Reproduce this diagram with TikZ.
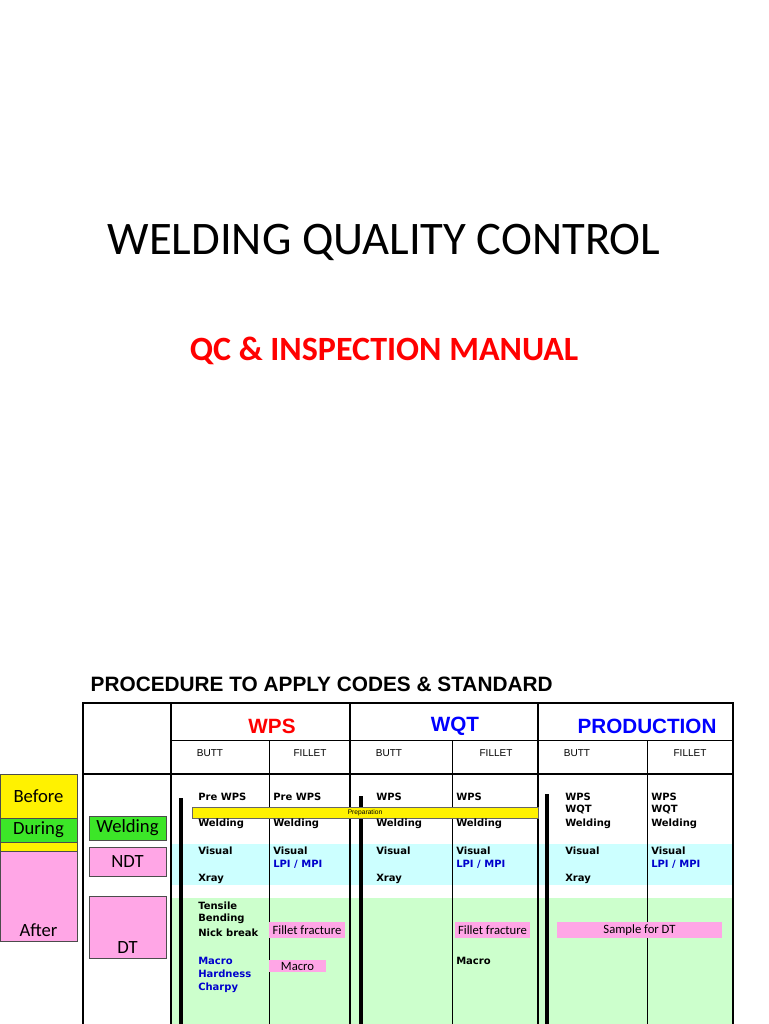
\documentclass[tikz,border=0pt]{standalone}
\usepackage{fontspec}
\setmainfont{Carlito}
\newfontfamily\arl{Liberation Sans}
\newfontfamily\dvs{DejaVu Sans}
\definecolor{cyanband}{RGB}{204,255,255}
\definecolor{greenband}{RGB}{204,255,204}
\definecolor{lime}{RGB}{60,230,40}
\definecolor{pinkc}{RGB}{255,166,230}
\begin{document}
\begin{tikzpicture}[x=0.75pt,y=-0.75pt,
  cell/.style={anchor=west,inner sep=0,font=\dvs\bfseries\fontsize{7.5}{8}\selectfont},
  bl/.style={text=blue!80!black},
  sub/.style={inner sep=0,font=\arl\fontsize{7.5}{8}\selectfont},
  hdr/.style={inner sep=0,font=\arl\bfseries\fontsize{15.5}{16}\selectfont},
  lbl/.style={inner sep=0,font=\fontsize{14}{15}\selectfont},
  pinkbox/.style={fill=pinkc,draw=none}]
\useasboundingbox (0,0) rectangle (768,1024);
\fill[white] (0,0) rectangle (768,1024);
\node[font=\fontsize{35}{40}\selectfont] (title) at (384,242) {WELDING QUALITY CONTROL};
\node[font=\bfseries\fontsize{25.5}{28}\selectfont,text=red] (sub) at (384,351) {QC \& INSPECTION MANUAL};
\node[anchor=west,font=\arl\bfseries\fontsize{15.6}{17}\selectfont] (proc) at (86,684) {PROCEDURE TO APPLY CODES \& STANDARD};
% bands
\fill[cyanband] (171,844) rectangle (733,885);
\fill[greenband] (171,898) rectangle (733,1024);
% grid
\draw[line width=1.5pt] (83,1024) -- (83,703) -- (733,703) -- (733,1024);
\draw[line width=1.2pt] (83,774) -- (733,774);
\draw[line width=0.6pt] (171,740) -- (733,740);
\foreach \x in {171,350,538} \draw[line width=1pt] (\x,703) -- (\x,1024);
\foreach \x in {269,452,647} \draw[line width=0.6pt] (\x,740) -- (\x,1024);
\foreach \x/\y in {181/798,361/796,547/794} \draw[line width=2.5pt] (\x,\y) -- (\x,1024);
% headers
\node[hdr,text=red] (h1) at (272,726) {WPS};
\node[hdr,text=blue] (h2) at (455,726) {WQT};
\node[hdr,text=blue] (h3) at (647,726) {PRODUCTION};
\node[sub] (b1) at (210,753) {BUTT};
\node[sub] (f1) at (310,753) {FILLET};
\node[sub] (b2) at (389,753) {BUTT};
\node[sub] (f2) at (496,753) {FILLET};
\node[sub] (b3) at (577,753) {BUTT};
\node[sub] (f3) at (690,753) {FILLET};
% preparation bar
\node[fill=yellow,draw=black!60,line width=0.4pt,minimum width=346*0.75pt,minimum height=11*0.75pt,inner sep=0,font=\arl\fontsize{5}{6}\selectfont] (prep) at (365,812.5) {Preparation};
% left boxes
\node[fill=yellow,draw=black!70,minimum width=77*0.75pt,minimum height=44*0.75pt,inner sep=0,lbl] (before) at (38.5,796) {Before};
\node[fill=lime,draw=black!70,minimum width=77*0.75pt,minimum height=24*0.75pt,inner sep=0,lbl] (during) at (38.5,830) {During};
\node[fill=yellow,draw=black!70,minimum width=77*0.75pt,minimum height=9*0.75pt,inner sep=0] (strip) at (38.5,846.5) {};
\node[pinkbox,draw=black!70,minimum width=77*0.75pt,minimum height=90*0.75pt,inner sep=0] (after) at (38.5,896) {};
\node[lbl] (aftert) at (38.5,930) {After};
\node[fill=lime,draw=black!70,minimum width=77*0.75pt,minimum height=24*0.75pt,inner sep=0,lbl] (weld) at (127.5,828) {Welding};
\node[pinkbox,draw=black!70,minimum width=77*0.75pt,minimum height=29*0.75pt,inner sep=0,lbl] (ndt) at (127.5,862) {NDT};
\node[pinkbox,draw=black!70,minimum width=77*0.75pt,minimum height=62*0.75pt,inner sep=0] (dt) at (127.5,927) {};
\node[lbl] (dtt) at (127.5,948) {DT};
% WPS butt
\node[cell] (a1) at (198,797) {Pre WPS};
\node[cell] (a2) at (198,824) {Welding};
\node[cell] (a3) at (198,851) {Visual};
\node[cell] (a4) at (198,879) {Xray};
\node[cell] (a5) at (198,906) {Tensile};
\node[cell] (a6) at (198,919) {Bending};
\node[cell] (a7) at (198,933) {Nick break};
\node[cell,bl] (a8) at (198,961) {Macro};
\node[cell,bl] (a9) at (198,974) {Hardness};
\node[cell,bl] (a10) at (198,988) {Charpy};
% WPS fillet
\node[cell] (c1) at (273,797) {Pre WPS};
\node[cell] (c2) at (273,824) {Welding};
\node[cell] (c3) at (273,851) {Visual};
\node[cell,bl] (c4) at (273,864) {LPI / MPI};
\node[pinkbox,minimum width=76*0.75pt,minimum height=16*0.75pt,inner sep=0,font=\fontsize{9.5}{10}\selectfont] (ff1) at (307,930) {Fillet fracture};
\node[pinkbox,minimum width=57*0.75pt,minimum height=12*0.75pt,inner sep=0,font=\fontsize{9.5}{10}\selectfont] (mac1) at (297.5,966) {Macro};
% WQT butt
\node[cell] (d1) at (376,797) {WPS};
\node[cell] (d2) at (376,824) {Welding};
\node[cell] (d3) at (376,851) {Visual};
\node[cell] (d4) at (376,879) {Xray};
% WQT fillet
\node[cell] (e1) at (456,797) {WPS};
\node[cell] (e2) at (456,824) {Welding};
\node[cell] (e3) at (456,851) {Visual};
\node[cell,bl] (e4) at (456,864) {LPI / MPI};
\node[pinkbox,minimum width=75*0.75pt,minimum height=16*0.75pt,inner sep=0,font=\fontsize{9.5}{10}\selectfont] (ff2) at (492.5,930) {Fillet fracture};
\node[cell] (e5) at (456,961) {Macro};
% production
\node[cell] (g1) at (565,797) {WPS};
\node[cell] (g2) at (565,810) {WQT};
\node[cell] (g3) at (565,824) {Welding};
\node[cell] (g4) at (565,851) {Visual};
\node[cell] (g5) at (565,879) {Xray};
\node[cell] (k1) at (651,797) {WPS};
\node[cell] (k2) at (651,810) {WQT};
\node[cell] (k3) at (651,824) {Welding};
\node[cell] (k4) at (651,851) {Visual};
\node[cell,bl] (k5) at (651,864) {LPI / MPI};
\node[pinkbox,minimum width=165*0.75pt,minimum height=16*0.75pt,inner sep=0,font=\fontsize{9.5}{10}\selectfont] (sdt) at (639.5,930) {Sample for DT};
\end{tikzpicture}
\end{document}
